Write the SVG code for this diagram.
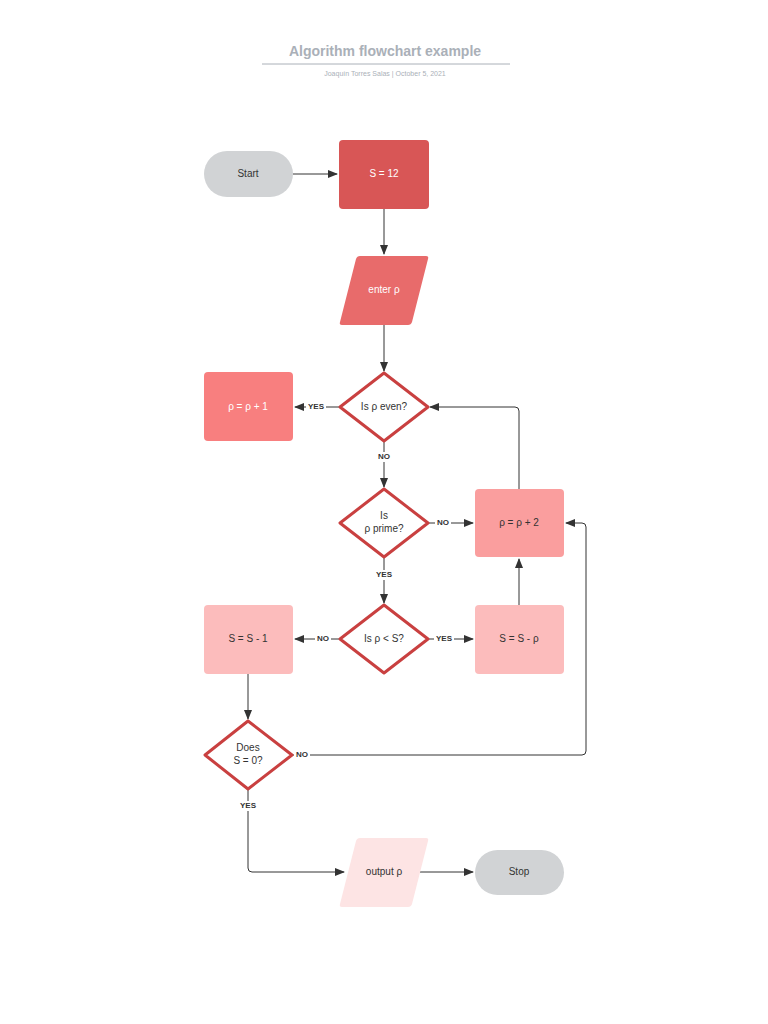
<svg xmlns="http://www.w3.org/2000/svg" width="768" height="1024" viewBox="0 0 768 1024">
<style>
text{font-family:"Liberation Sans",Arial,sans-serif;font-size:10px;text-anchor:middle;dominant-baseline:middle}
.w{fill:#fff}.d{fill:#333}
.dia{fill:#fff;stroke:#c94040;stroke-width:3;stroke-linejoin:round}
.c{fill:none;stroke:#333;stroke-width:1}
.lb{font-size:8px;font-weight:bold;fill:#333}
.lbg{fill:#fff}
</style>
<defs><marker id="a" markerWidth="10" markerHeight="8" refX="9" refY="4" orient="auto" markerUnits="userSpaceOnUse"><path d="M0,0L10,4L0,8z" fill="#333"/></marker></defs>
<rect width="768" height="1024" fill="#fff"/>
<text x="385" y="52" style="font-size:14px;font-weight:bold;fill:#aab0b8">Algorithm flowchart example</text>
<line x1="262" y1="64" x2="510" y2="64" stroke="#aab0b8"/>
<text x="385" y="74" style="font-size:7px;fill:#aab0b8">Joaquín Torres Salas  |  October 5, 2021</text>
<g id="connectors">
<path class="c" d="M293,174H337" marker-end="url(#a)"/>
<path class="c" d="M384,209V254" marker-end="url(#a)"/>
<path class="c" d="M384,325V371" marker-end="url(#a)"/>
<path class="c" d="M340,407H295" marker-end="url(#a)"/>
<path class="c" d="M384,441V487" marker-end="url(#a)"/>
<path class="c" d="M428,523H473" marker-end="url(#a)"/>
<path class="c" d="M384,557V603" marker-end="url(#a)"/>
<path class="c" d="M340,639H295" marker-end="url(#a)"/>
<path class="c" d="M428,639H473" marker-end="url(#a)"/>
<path class="c" d="M519,605V559" marker-end="url(#a)"/>
<path class="c" d="M519,489V411Q519,407 515,407H430" marker-end="url(#a)"/>
<path class="c" d="M248,674V719" marker-end="url(#a)"/>
<path class="c" d="M292,755H582Q586,755 586,751V527Q586,523 582,523H566" marker-end="url(#a)"/>
<path class="c" d="M248,789V868Q248,872 252,872H344" marker-end="url(#a)"/>
<path class="c" d="M420,872H473" marker-end="url(#a)"/>
<rect class="lbg" x="306" y="402" width="20" height="10"/><text class="lb" x="316" y="407">YES</text>
<rect class="lbg" x="375" y="452" width="18" height="10"/><text class="lb" x="384" y="457">NO</text>
<rect class="lbg" x="435" y="518" width="16" height="10"/><text class="lb" x="443" y="523">NO</text>
<rect class="lbg" x="374" y="570" width="20" height="10"/><text class="lb" x="384" y="575">YES</text>
<rect class="lbg" x="315" y="634" width="16" height="10"/><text class="lb" x="323" y="639">NO</text>
<rect class="lbg" x="434" y="634" width="20" height="10"/><text class="lb" x="444" y="639">YES</text>
<rect class="lbg" x="294" y="750" width="16" height="10"/><text class="lb" x="302" y="755">NO</text>
<rect class="lbg" x="238" y="801" width="20" height="10"/><text class="lb" x="248" y="806">YES</text>
</g>
<g id="start"><rect x="204" y="151" width="89" height="46" rx="23" fill="#d1d3d5"/><text class="d" x="248" y="174">Start</text></g>
<g id="s12"><rect x="339" y="140" width="90" height="69" rx="4" fill="#d85656"/><text class="w" x="384" y="174">S = 12</text></g>
<g id="enter"><path d="M358,256H426Q429,256 428,259L412,322Q411,325 408,325H342Q339,325 340,322L356,259Q357,256 360,256Z" fill="#e86b6b"/><text class="w" x="384" y="290">enter ρ</text></g>
<g id="even"><path class="dia" d="M384,373L428,407L384,441L340,407Z"/><text class="d" x="384" y="407">Is ρ even?</text></g>
<g id="p1"><rect x="204" y="372" width="89" height="69" rx="4" fill="#f87f7f"/><text class="w" x="248" y="407">ρ = ρ + 1</text></g>
<g id="prime"><path class="dia" d="M384,489L428,523L384,557L340,523Z"/><text class="d" x="384" y="516">Is</text><text class="d" x="384" y="529">ρ prime?</text></g>
<g id="p2"><rect x="475" y="489" width="89" height="68" rx="4" fill="#fa9e9e"/><text class="d" x="519" y="523">ρ = ρ + 2</text></g>
<g id="lt"><path class="dia" d="M384,605L428,639L384,673L340,639Z"/><text class="d" x="384" y="639">Is ρ &lt; S?</text></g>
<g id="sm1"><rect x="204" y="605" width="89" height="69" rx="4" fill="#fcbcbc"/><text class="d" x="248" y="639">S = S - 1</text></g>
<g id="smp"><rect x="475" y="605" width="89" height="69" rx="4" fill="#fcbcbc"/><text class="d" x="519" y="639">S = S - ρ</text></g>
<g id="zero"><path class="dia" d="M248,721L292,755L248,789L205,755Z"/><text class="d" x="248" y="748">Does</text><text class="d" x="248" y="761">S = 0?</text></g>
<g id="output"><path d="M358,838H426Q429,838 428,841L412,904Q411,907 408,907H342Q339,907 340,904L356,841Q357,838 360,838Z" fill="#fde4e4"/><text class="d" x="384" y="872">output ρ</text></g>
<g id="stop"><rect x="475" y="850" width="89" height="45" rx="22.5" fill="#d1d3d5"/><text class="d" x="519" y="872">Stop</text></g>
</svg>
